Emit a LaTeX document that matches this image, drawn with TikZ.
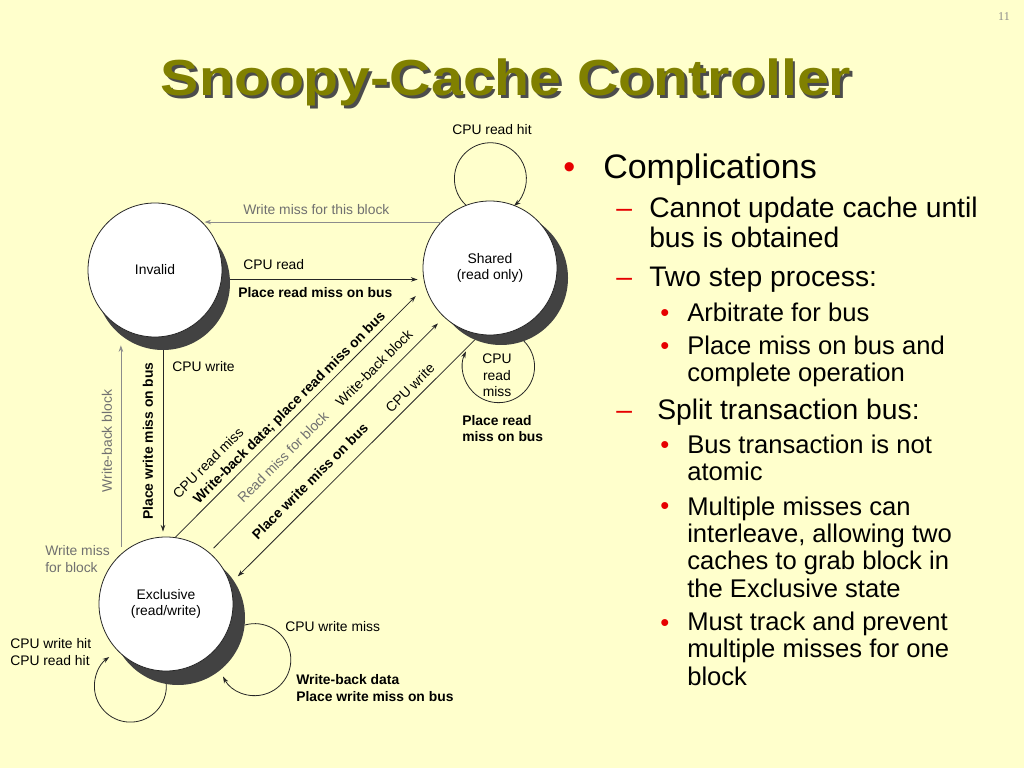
\documentclass[tikz,border=0pt]{standalone}
\usepackage{fontspec}
\usepackage{graphicx}
\setmainfont{Liberation Sans}
\newfontfamily\numfont{Liberation Serif}
\usetikzlibrary{arrows.meta}

\definecolor{slidebg}{RGB}{255,255,204}
\definecolor{titleolive}{RGB}{128,128,0}
\definecolor{lblgray}{RGB}{112,112,112}
\definecolor{shadowgray}{RGB}{66,66,66}
\definecolor{bulletred}{RGB}{230,0,0}

\tikzset{
  stnode/.style={circle, draw=black!85, line width=0.6pt, fill=white, minimum size=100.5pt, inner sep=0pt, align=center, font=\fontsize{10.4}{12.5}\selectfont},
  stshadow/.style={circle, fill=shadowgray, minimum size=100.5pt, inner sep=0pt},
  lbl/.style={inner sep=0pt, align=left, font=\fontsize{10.4}{12.6}\selectfont},
  blbl/.style={lbl, font=\fontsize{10.4}{12.6}\selectfont\bfseries},
  glbl/.style={lbl, text=lblgray},
  conn/.style={draw=black!85, line width=0.6pt, -{Stealth[length=5pt,width=3.4pt]}},
  gconn/.style={conn, draw=black!45},
  lvlone/.style={inner sep=0pt, anchor=base west, font=\fontsize{25.5}{30}\selectfont},
  lvltwo/.style={inner sep=0pt, anchor=base west, align=left, font=\fontsize{21.2}{22.5}\selectfont},
  lvlthree/.style={inner sep=0pt, anchor=base west, align=left, font=\fontsize{19.2}{20.4}\selectfont},
  redmark/.style={inner sep=0pt, anchor=base west, text=bulletred},
}

\begin{document}
\begin{tikzpicture}[x=0.75pt,y=0.75pt]
\fill[slidebg] (0,0) rectangle (1024,768);
\useasboundingbox (0,0) rectangle (1024,768);

% title and page number
\node[anchor=base, text=black!70, font=\fontsize{38}{40}\selectfont\bfseries] (title-sh) at (508.5,669.5) {\scalebox{1.13}[1]{Snoopy-Cache Controller}};
\node[anchor=base, text=titleolive, font=\fontsize{38}{40}\selectfont\bfseries] (title) at (506,672) {\scalebox{1.13}[1]{Snoopy-Cache Controller}};
\node[anchor=base, text=black!45, font=\numfont\fontsize{9}{10}\selectfont] (pgnum) at (1004,747) {11};

% states
\node[stshadow] (inv-sh) at (163,485) {};
\node[stshadow] (sh-sh) at (501,490) {};
\node[stshadow] (ex-sh) at (178,150) {};
\node[stnode] (inv) at (155,498) {Invalid};
\node[stnode] (sh) at (490,500) {Shared\\(read only)};
\node[stnode] (ex) at (166,164) {Exclusive\\(read/write)};

% invalid <-> shared
\draw[gconn, shorten >=2pt] (sh.137) -- (inv.46 |- sh.137);
\node[glbl, anchor=base west] (l-wmtb) at (243,553) {Write miss for this block};
\draw[conn, shorten >=3.75pt] (inv-sh.3) -- (sh.west |- inv-sh.3);
\node[lbl, anchor=base west] (l-cr) at (243,498) {CPU read};
\node[blbl, anchor=base west] (l-prm) at (238,470) {Place read miss on bus};

% invalid <-> exclusive
\draw[conn, shorten >=3.75pt] (inv-sh.south) -- (inv-sh.south |- ex.north);
\node[lbl, anchor=base west] (l-cw) at (172,396) {CPU write};
\node[blbl, rotate=90] (l-pwm) at (148,327) {Place write miss on bus};
\draw[gconn, shorten <=5.25pt, shorten >=7.5pt] (ex.132) -- (ex.132 |- inv-sh.231);
\node[glbl, rotate=90] (l-wbb) at (107,327) {Write-back block};
\node[glbl, anchor=base west] (l-wmb) at (45,196) {Write miss\\for block};

% exclusive <-> shared
\draw[conn, shorten >=10pt] (ex.82) -- (sh.196);
\node[lbl, rotate=45] (l-crm) at (208,305) {CPU read miss};
\node[blbl, rotate=45] (l-wbd) at (290,360) {Write-back data; place read miss on bus};
\draw[conn, shorten <=4.5pt, shorten >=6.5pt] (ex.50) -- (sh.227);
\node[glbl, rotate=45] (l-rmb) at (283,311) {Read miss for block};
\node[lbl, rotate=45] (l-wbb2) at (374,400) {Write-back block};
\draw[conn, shorten >=4.3pt] (sh-sh.247) -- (ex-sh.34);
\node[lbl, rotate=45] (l-cw2) at (410,380) {CPU write};
\node[blbl, rotate=45] (l-pwm2) at (310,287) {Place write miss on bus};

% self loops
\draw[conn] (sh.111) arc[start angle=227, end angle=-49, radius=36];
\node[lbl, anchor=base west] (l-crh) at (452,633) {CPU read hit};
\draw[conn] (sh-sh.290) arc[start angle=45, end angle=-205, radius=36];
\node[lbl, align=center, anchor=base] (l-crm3) at (497,371) {CPU\\read\\miss};
\node[blbl, anchor=base west] (l-prm2) at (462,326) {Place read\\miss on bus};
\draw[conn] (ex-sh.260) arc[start angle=3, end angle=-234, radius=36];
\node[lbl, anchor=base west] (l-hits) at (10,103) {CPU write hit\\CPU read hit};
\draw[conn] (ex-sh.354) arc[start angle=106, end angle=-152, radius=36];
\node[lbl, anchor=base west] (l-cwm) at (285,137) {CPU write miss};
\node[blbl, anchor=base west] (l-wbd2) at (296,67) {Write-back data\\Place write miss on bus};

% bullet text
\node[redmark, font=\fontsize{25.5}{30}\selectfont] (b-comp) at (563,589) {•};
\node[lvlone] (t-comp) at (603,589) {Complications};
\node[redmark, font=\fontsize{21.2}{22.5}\selectfont] (d-cache) at (616,550) {–};
\node[lvltwo] (t-cache) at (649,520) {Cannot update cache until\\bus is obtained};
\node[redmark, font=\fontsize{21.2}{22.5}\selectfont] (d-two) at (616,481) {–};
\node[lvltwo] (t-two) at (649,481) {Two step process:};
\node[redmark, font=\fontsize{19.2}{20.4}\selectfont] (b-arb) at (660,446) {•};
\node[lvlthree] (t-arb) at (687,446) {Arbitrate for bus};
\node[redmark, font=\fontsize{19.2}{20.4}\selectfont] (b-place) at (660,413) {•};
\node[lvlthree] (t-place) at (687,386) {Place miss on bus and\\complete operation};
\node[redmark, font=\fontsize{21.2}{22.5}\selectfont] (d-split) at (616,348) {–};
\node[lvltwo] (t-split) at (657,348) {Split transaction bus:};
\node[redmark, font=\fontsize{19.2}{20.4}\selectfont] (b-atom) at (660,314) {•};
\node[lvlthree] (t-atom) at (687,287) {Bus transaction is not\\atomic};
\node[redmark, font=\fontsize{19.2}{20.4}\selectfont] (b-multi) at (660,253) {•};
\node[lvlthree] (t-multi) at (687,171) {Multiple misses can\\interleave, allowing two\\caches to grab block in\\the Exclusive state};
\node[redmark, font=\fontsize{19.2}{20.4}\selectfont] (b-track) at (660,137) {•};
\node[lvlthree] (t-track) at (687,83) {Must track and prevent\\multiple misses for one\\block};
\end{tikzpicture}
\end{document}
